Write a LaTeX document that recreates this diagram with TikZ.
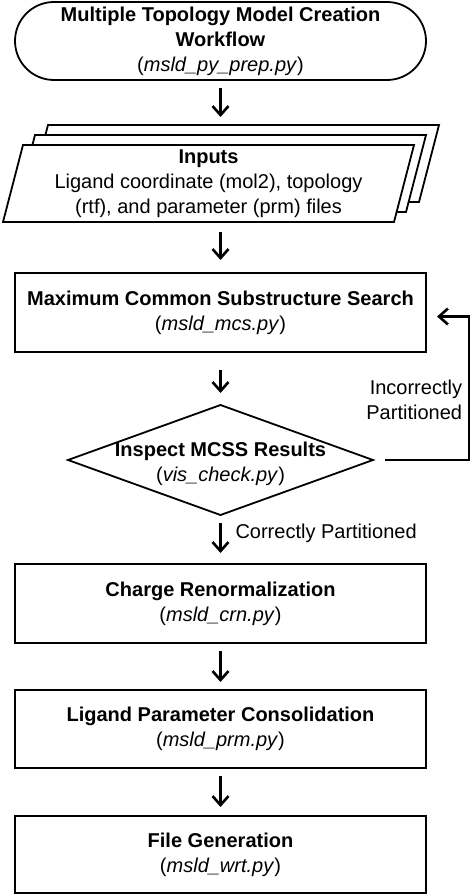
\documentclass[tikz,border=0pt]{standalone}
\usepackage{fontspec}
\setmainfont{Liberation Sans}
\usetikzlibrary{shapes.geometric,arrows.meta,backgrounds}

\begin{document}
\begin{tikzpicture}[x=1pt, y=1pt,
    every node/.style={outer sep=0pt, font=\fontsize{20}{25}\selectfont, align=center},
    box/.style={rectangle, draw, line width=1.8pt, minimum width=411pt, minimum height=78pt, inner sep=0pt},
    startbox/.style={box, rounded corners=39pt},
    sheet/.style={draw, fill=white, line width=1.8pt},
    dia/.style={diamond, draw, line width=1.8pt, minimum width=305pt, minimum height=110pt, inner sep=2pt},
    flow/.style={-{Straight Barb[length=9pt, width=16pt]}, line width=2.6pt}]
    \useasboundingbox (0,0) rectangle (474,-896);

    \node (start) [startbox] at (220.5,-41) {\textbf{Multiple Topology Model Creation}\\\textbf{Workflow}\\(\textit{msld\_py\_prep.py})};
    \node (inp) [minimum width=391pt, minimum height=77pt, inner sep=0pt] at (208.5,-183.5) {\textbf{Inputs}\\Ligand coordinate (mol2), topology\\(rtf), and parameter (prm) files};
    % three stacked sheets behind the input text
    \begin{pgfonlayer}{background}
      \foreach \dx/\dy in {25/20, 12/10, 0/0}
        \draw [sheet] ([shift={({\dx-10},\dy)}]inp.south west) -- ([shift={({\dx+10},\dy)}]inp.north west)
          -- ([shift={({\dx+10},\dy)}]inp.north east) -- ([shift={({\dx-10},\dy)}]inp.south east) -- cycle;
    \end{pgfonlayer}
    \node (mcs) [box, minimum height=79pt] at (220.5,-312.5) {\textbf{Maximum Common Substructure Search}\\(\textit{msld\_mcs.py})};
    \node (chk) [dia] at (220.5,-460) {\strut};
    \node (chktxt) at ([yshift=-4pt]chk.center) {\textbf{Inspect MCSS Results}\\(\textit{vis\_check.py})};
    \node (crn) [box, minimum height=79pt] at (220.5,-603.5) {\textbf{Charge Renormalization}\\(\textit{msld\_crn.py})};
    \node (prm) [box] at (220.5,-729) {\textbf{Ligand Parameter Consolidation}\\(\textit{msld\_prm.py})};
    \node (wrt) [box, minimum height=77pt] at (220.5,-854.5) {\textbf{File Generation}\\(\textit{msld\_wrt.py})};

    \draw [flow, shorten <=8pt, shorten >=28pt] (start.south) -- (start.south |- inp.north);
    \draw [flow, shorten <=10pt, shorten >=13pt] (mcs.north |- inp.south) -- (mcs.north);
    \draw [flow, shorten <=18pt, shorten >=12pt] (mcs.south) -- (chk.north);
    \draw [flow, shorten <=8pt, shorten >=11pt] (chk.south) -- node (okl) [right=15pt, yshift=6.5pt, inner sep=0pt] {Correctly Partitioned} (crn.north);
    \draw [flow, shorten <=8pt, shorten >=8pt] (crn.south) -- (prm.north);
    \draw [flow, shorten <=8pt, shorten >=9pt] (prm.south) -- (wrt.north);

    % loop back when the partition is wrong
    \coordinate (back) at (469,-460);
    \draw [flow, shorten <=12pt, shorten >=11pt] (chk.east) -- (back) |- ([yshift=-4pt]mcs.east);
    \node (badl) [anchor=east, align=right, inner sep=0pt] at (462,-400) {Incorrectly\\Partitioned};
\end{tikzpicture}
\end{document}
